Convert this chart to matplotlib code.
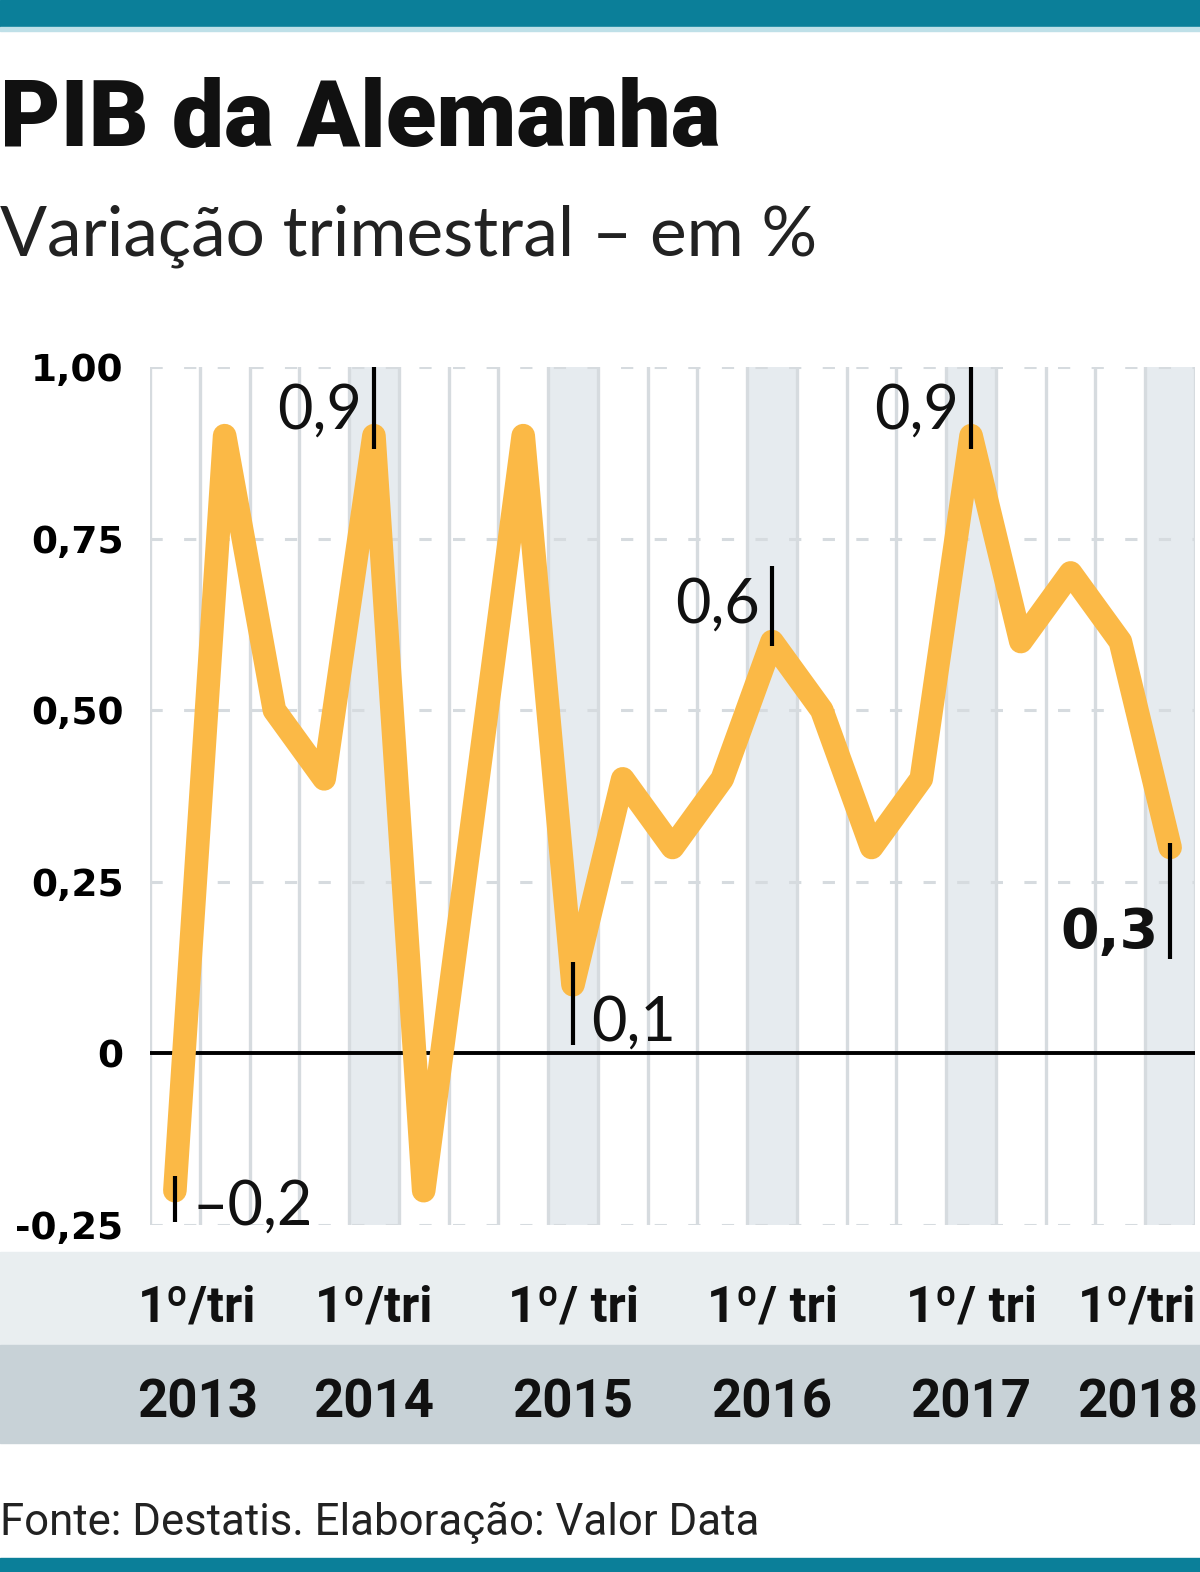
import matplotlib
matplotlib.use("Agg")
import matplotlib.pyplot as plt
from matplotlib.patches import Rectangle
from matplotlib.transforms import blended_transform_factory

# ---------------- data ----------------
quarters = ["2013T1", "2013T2", "2013T3", "2013T4",
            "2014T1", "2014T2", "2014T3", "2014T4",
            "2015T1", "2015T2", "2015T3", "2015T4",
            "2016T1", "2016T2", "2016T3", "2016T4",
            "2017T1", "2017T2", "2017T3", "2017T4",
            "2018T1"]
values = [-0.2, 0.9, 0.5, 0.4,
          0.9, -0.2, 0.35, 0.9,
          0.1, 0.4, 0.3, 0.4,
          0.6, 0.5, 0.3, 0.4,
          0.9, 0.6, 0.7, 0.6,
          0.3]
years = ["2013", "2014", "2015", "2016", "2017", "2018"]
q1_labels = ["1º/tri", "1º/tri", "1º/ tri", "1º/ tri", "1º/ tri", "1º/tri"]
yticks = [-0.25, 0, 0.25, 0.5, 0.75, 1.0]
ytick_labels = ["-0,25", "0", "0,25", "0,50", "0,75", "1,00"]

# ---------------- style ----------------
W, H = 1200, 1572
TEAL = "#0b7f99"
LINE = "#fbb946"
GRID = "#d6dbdf"
SHADE = "#e6ebef"
BAND1 = "#e9eef0"
BAND2 = "#c8d2d7"

fig = plt.figure(figsize=(W / 100, H / 100), dpi=100)
fig.patch.set_facecolor("white")


def fx(x):
    return x / W


def fy(y):
    return 1 - y / H


def band(y0, y1, color):
    fig.patches.append(Rectangle((0, fy(y1)), 1, (y1 - y0) / H,
                                 transform=fig.transFigure, color=color,
                                 zorder=-5))


# frame bars
band(0, 27, TEAL)
band(27, 31, "#bfe0e8")
band(1558, 1572, TEAL)
# bottom bands
band(1252, 1345, BAND1)
band(1345, 1443, BAND2)

# titles
fig.text(fx(0), fy(146), "PIB da Alemanha", fontsize=67, fontweight="black",
         family="Roboto", ha="left", va="baseline", color="#111111")
fig.text(fx(0), fy(255), "Variação trimestral – em %", fontsize=50,
         fontweight="normal", family="Lato", ha="left", va="baseline",
         color="#222222")
fig.text(fx(0), fy(1535), "Fonte: Destatis. Elaboração: Valor Data", fontsize=31.5,
         family="Roboto", ha="left", va="baseline", color="#222222")

# axes
ax = fig.add_axes([fx(150), fy(1225), (1195 - 150) / W, (1225 - 367) / H])
ax.set_facecolor("none")
n = len(values)
xs = list(range(n))
ax.set_xlim(-0.5, n - 0.5)
ax.set_ylim(-0.25, 1.0)
for s in ax.spines.values():
    s.set_visible(False)

# shaded Q1 columns (except the first) and vertical separators
q1_idx = [i for i, q in enumerate(quarters) if q.endswith("T1")]
for i in q1_idx[1:]:
    ax.axvspan(i - 0.5, i + 0.5, color=SHADE, lw=0, zorder=0)
for k in range(n + 1):
    ax.axvline(k - 0.5, color=GRID, lw=2.4, zorder=1)

# horizontal dashed grid
for t in yticks:
    if t != 0:
        ax.axhline(t, color=GRID, lw=2.2, dashes=(4, 7), zorder=1)
ax.axhline(0, color="black", lw=2.8, zorder=2)

ax.set_xticks([])
ax.set_yticks(yticks)
ax.set_yticklabels(ytick_labels, fontsize=27, fontweight="bold",
                   family="DejaVu Sans")
ax.tick_params(axis="y", length=0, pad=19)

# main line
ax.plot(xs, values, color=LINE, lw=17, solid_joinstyle="round",
        solid_capstyle="round", zorder=3, clip_on=False)

# annotations: (index, tick_lo_offset, tick_hi_offset, side, text_baseline_offset, bold)
ann = [
    (0, -0.046, 0.022, "right", -0.05, False),
    (4, -0.02, 0.10, "left", 0.01, False),
    (8, -0.088, 0.033, "right", -0.081, False),
    (12, -0.006, 0.11, "left", 0.028, False),
    (16, -0.02, 0.10, "left", 0.01, False),
    (20, -0.162, 0.006, "left", -0.147, True),
]
for idx, lo, hi, side, tb, bold in ann:
    v = values[idx]
    ax.plot([idx, idx], [v + lo, v + hi], color="black", lw=3, zorder=4,
            solid_capstyle="butt", clip_on=False)
    txt = f"{abs(v):.1f}".replace(".", ",")
    if v < 0:
        txt = "–" + txt
    if side == "left":
        ha, dx = "right", -12
    else:
        ha, dx = "left", 18
    ax.annotate(txt, xy=(idx, v + tb), xytext=(dx, 0), textcoords="offset pixels",
                ha=ha, va="baseline", fontsize=44 if not bold else 40,
                fontweight="bold" if bold else "normal",
                family="Lato" if not bold else "DejaVu Sans", color="#111111",
                zorder=5)

# bottom labels
tr = blended_transform_factory(ax.transData, fig.transFigure)
label_shift = [0.45, 0, 0, 0, 0, -0.66]
for j, i in enumerate(q1_idx):
    ax.text(i + label_shift[j], fy(1322), q1_labels[j], transform=tr, ha="center",
            va="baseline", fontsize=36, fontweight="bold", family="Roboto",
            color="#111111", clip_on=False)
    ax.text(i + label_shift[j], fy(1418), years[j], transform=tr, ha="center",
            va="baseline", fontsize=38, fontweight="bold", family="Roboto",
            color="#111111", clip_on=False)

fig.savefig("out.png", dpi=100)
